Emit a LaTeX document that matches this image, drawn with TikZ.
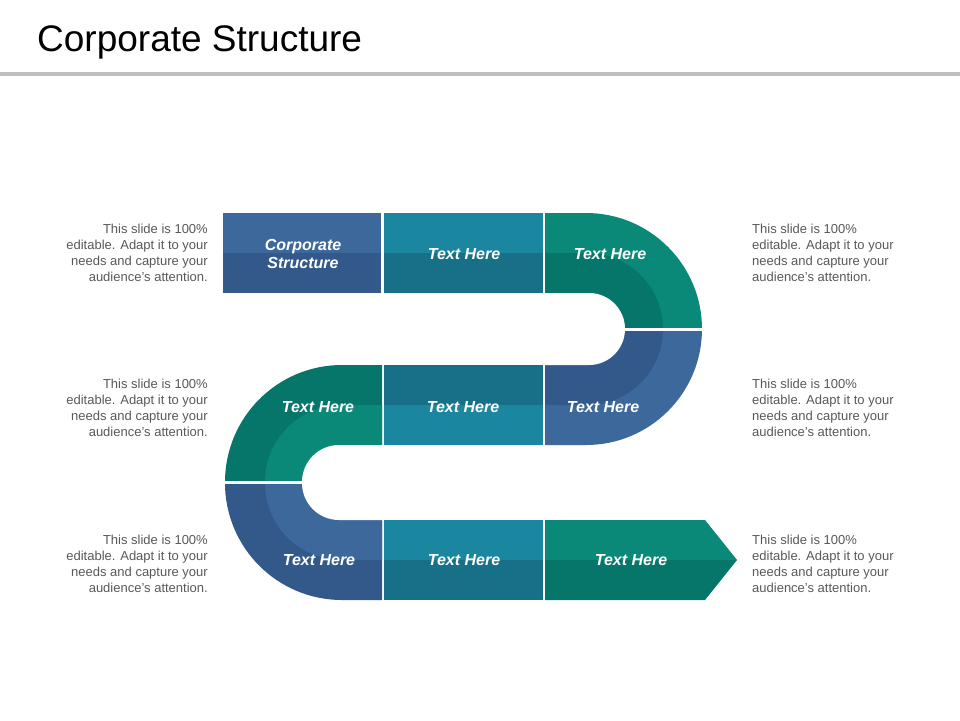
\documentclass[tikz,border=0pt]{standalone}
\usepackage{fontspec}
\setmainfont{Liberation Sans}
\begin{document}
\begin{tikzpicture}[x=1pt,y=-1pt,
  lbl/.style={font=\fontsize{16}{18}\selectfont\bfseries\itshape,text=white,align=center},
  side/.style={font=\fontsize{13}{16}\selectfont,text=txtgray,inner sep=0pt}]
\definecolor{txtgray}{HTML}{595959}
\definecolor{bL}{HTML}{3D689B}\definecolor{bD}{HTML}{33598A}
\definecolor{tL}{HTML}{1A86A0}\definecolor{tD}{HTML}{186F88}
\definecolor{gL}{HTML}{0A8878}\definecolor{gD}{HTML}{07766A}
\useasboundingbox (0,0) rectangle (960,720);
\fill[white] (0,0) rectangle (960,720);
\node[anchor=west,inner sep=0pt,font=\fontsize{37}{40}\selectfont] (title) at (37,42) {Corporate Structure};
\fill[black!25] (0,72) rectangle (960,76);
% straight boxes
\fill[bL] (223,213) rectangle (381,253); \fill[bD] (223,253) rectangle (381,293);
\fill[tL] (384,213) rectangle (543,253); \fill[tD] (384,253) rectangle (543,293);
\fill[tD] (384,365) rectangle (543,405); \fill[tL] (384,405) rectangle (543,445);
\fill[tL] (384,520) rectangle (543,560); \fill[tD] (384,560) rectangle (543,600);
\fill[gL] (545,520) -- (705,520) -- (737,560) -- (545,560) -- cycle;
\fill[gD] (545,560) -- (737,560) -- (705,600) -- (545,600) -- cycle;
% right curve
\begin{scope}
\clip (545,200) rectangle (720,329);
\fill[gL] (545,213) [rounded corners=116]-- (702,213) -- (702,445) [sharp corners]-- (545,445) -- cycle;
\fill[gD] (545,253) [rounded corners=76]-- (663,253) -- (663,405) [sharp corners]-- (545,405) -- cycle;
\end{scope}
\begin{scope}
\clip (545,329) rectangle (720,460);
\fill[bL] (545,213) [rounded corners=116]-- (702,213) -- (702,445) [sharp corners]-- (545,445) -- cycle;
\fill[bD] (545,253) [rounded corners=76]-- (663,253) -- (663,405) [sharp corners]-- (545,405) -- cycle;
\end{scope}
\fill[white] (544,293) [rounded corners=36]-- (625,293) -- (625,365) [sharp corners]-- (544,365) -- cycle;
\fill[white] (625,328) rectangle (705,330.5);
% left curve
\begin{scope}
\clip (210,350) rectangle (382,482);
\fill[gD] (382,365) [rounded corners=117]-- (225,365) -- (225,600) [sharp corners]-- (382,600) -- cycle;
\fill[gL] (382,405) [rounded corners=77]-- (265,405) -- (265,560) [sharp corners]-- (382,560) -- cycle;
\end{scope}
\begin{scope}
\clip (210,482) rectangle (382,610);
\fill[bD] (382,365) [rounded corners=117]-- (225,365) -- (225,600) [sharp corners]-- (382,600) -- cycle;
\fill[bL] (382,405) [rounded corners=77]-- (265,405) -- (265,560) [sharp corners]-- (382,560) -- cycle;
\end{scope}
\fill[white] (383,445) [rounded corners=37]-- (302,445) -- (302,520) [sharp corners]-- (383,520) -- cycle;
\fill[white] (222,481) rectangle (302,483.5);
% labels
\node[lbl] (n1) at (303,254) {Corporate\\Structure};
\node[lbl] (n2) at (464,254) {Text Here};
\node[lbl] (n3) at (610,254) {Text Here};
\node[lbl] (n4) at (318,407) {Text Here};
\node[lbl] (n5) at (463,407) {Text Here};
\node[lbl] (n6) at (603,407) {Text Here};
\node[lbl] (n7) at (319,560) {Text Here};
\node[lbl] (n8) at (464,560) {Text Here};
\node[lbl] (n9) at (631,560) {Text Here};
% side texts
\foreach \y/\nm in {253/l1,408/l2,564/l3}{
  \node[side,anchor=east,align=right] (\nm) at (208,\y) {This slide is 100\%\\editable. Adapt it to your\\needs and capture your\\audience's attention.};}
\foreach \y/\nm in {253/r1,408/r2,564/r3}{
  \node[side,anchor=west,align=left] (\nm) at (752,\y) {This slide is 100\%\\editable. Adapt it to your\\needs and capture your\\audience's attention.};}
\end{tikzpicture}
\end{document}
